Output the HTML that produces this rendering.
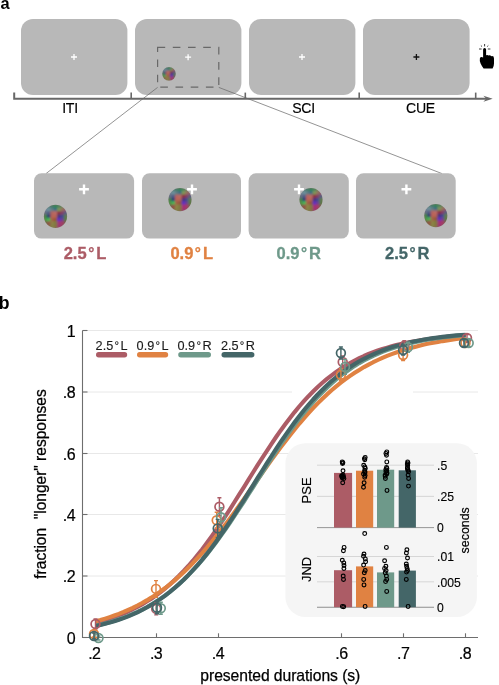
<!DOCTYPE html>
<html><head><meta charset="utf-8"><title>figure</title>
<style>
html,body{margin:0;padding:0;background:#fff;}
body{width:499px;height:685px;overflow:hidden;}
svg{display:block;}
text{font-family:"Liberation Sans",Arial,Helvetica,sans-serif;}
</style></head><body>
<svg width="499" height="685" viewBox="0 0 499 685">
<defs>
<filter id="bl" x="-20%" y="-20%" width="140%" height="140%"><feGaussianBlur stdDeviation="0.85"/></filter>
<filter id="bl2" x="-20%" y="-20%" width="140%" height="140%"><feGaussianBlur stdDeviation="1.5"/></filter>
<clipPath id="cc"><circle cx="0" cy="0" r="11.6"/></clipPath>
<g id="stim">
<g clip-path="url(#cc)">
<g filter="url(#bl)">
<rect x="-14" y="-14" width="28" height="28" fill="#8a7a70"/>
<rect x="-5.01" y="-11.70" width="3.44" height="3.44" fill="#468c6e"/>
<rect x="-1.67" y="-11.70" width="3.44" height="3.44" fill="#28965a"/>
<rect x="1.67" y="-11.70" width="3.44" height="3.44" fill="#509664"/>
<rect x="-8.36" y="-11.70" width="3.44" height="3.44" fill="#5a8c82"/>
<rect x="5.01" y="-11.70" width="3.44" height="3.44" fill="#789664"/>
<rect x="-11.70" y="-8.36" width="3.44" height="3.44" fill="#7896aa"/>
<rect x="-8.36" y="-8.36" width="3.44" height="3.44" fill="#78aab4"/>
<rect x="-5.01" y="-8.36" width="3.44" height="3.44" fill="#648c96"/>
<rect x="-1.67" y="-8.36" width="3.44" height="3.44" fill="#327896"/>
<rect x="1.67" y="-8.36" width="3.44" height="3.44" fill="#8cb45a"/>
<rect x="5.01" y="-8.36" width="3.44" height="3.44" fill="#aa8264"/>
<rect x="8.36" y="-8.36" width="3.44" height="3.44" fill="#aa5a6e"/>
<rect x="-11.70" y="-5.01" width="3.44" height="3.44" fill="#6e7896"/>
<rect x="-8.36" y="-5.01" width="3.44" height="3.44" fill="#506496"/>
<rect x="-5.01" y="-5.01" width="3.44" height="3.44" fill="#d26e64"/>
<rect x="-1.67" y="-5.01" width="3.44" height="3.44" fill="#dc786e"/>
<rect x="1.67" y="-5.01" width="3.44" height="3.44" fill="#a0283c"/>
<rect x="5.01" y="-5.01" width="3.44" height="3.44" fill="#963c6e"/>
<rect x="8.36" y="-5.01" width="3.44" height="3.44" fill="#5a6496"/>
<rect x="-11.70" y="-1.67" width="3.44" height="3.44" fill="#469646"/>
<rect x="-8.36" y="-1.67" width="3.44" height="3.44" fill="#1e3282"/>
<rect x="-5.01" y="-1.67" width="3.44" height="3.44" fill="#d76e5a"/>
<rect x="-1.67" y="-1.67" width="3.44" height="3.44" fill="#d26e5a"/>
<rect x="1.67" y="-1.67" width="3.44" height="3.44" fill="#46328c"/>
<rect x="5.01" y="-1.67" width="3.44" height="3.44" fill="#3c50a0"/>
<rect x="8.36" y="-1.67" width="3.44" height="3.44" fill="#648c50"/>
<rect x="-11.70" y="1.67" width="3.44" height="3.44" fill="#50aa46"/>
<rect x="-8.36" y="1.67" width="3.44" height="3.44" fill="#3cdc5a"/>
<rect x="-5.01" y="1.67" width="3.44" height="3.44" fill="#be6446"/>
<rect x="-1.67" y="1.67" width="3.44" height="3.44" fill="#aa5a32"/>
<rect x="1.67" y="1.67" width="3.44" height="3.44" fill="#6428e6"/>
<rect x="5.01" y="1.67" width="3.44" height="3.44" fill="#783caa"/>
<rect x="8.36" y="1.67" width="3.44" height="3.44" fill="#5a8c3c"/>
<rect x="-11.70" y="5.01" width="3.44" height="3.44" fill="#787846"/>
<rect x="-8.36" y="5.01" width="3.44" height="3.44" fill="#aa5046"/>
<rect x="-5.01" y="5.01" width="3.44" height="3.44" fill="#a09646"/>
<rect x="-1.67" y="5.01" width="3.44" height="3.44" fill="#8c8c3c"/>
<rect x="1.67" y="5.01" width="3.44" height="3.44" fill="#be288c"/>
<rect x="5.01" y="5.01" width="3.44" height="3.44" fill="#be3c6e"/>
<rect x="8.36" y="5.01" width="3.44" height="3.44" fill="#826450"/>
<rect x="-8.36" y="8.36" width="3.44" height="3.44" fill="#966e46"/>
<rect x="-5.01" y="8.36" width="3.44" height="3.44" fill="#969646"/>
<rect x="-1.67" y="8.36" width="3.44" height="3.44" fill="#96823c"/>
<rect x="1.67" y="8.36" width="3.44" height="3.44" fill="#b43278"/>
<rect x="5.01" y="8.36" width="3.44" height="3.44" fill="#aa466e"/>
<rect x="-14" y="-14" width="28" height="28" fill="#3a3040" opacity="0.16"/>
</g></g></g>
<g id="stimS">
<g clip-path="url(#cc)">
<g filter="url(#bl2)">
<rect x="-14" y="-14" width="28" height="28" fill="#8a7a70"/>
<rect x="-5.01" y="-11.70" width="3.44" height="3.44" fill="#468c6e"/>
<rect x="-1.67" y="-11.70" width="3.44" height="3.44" fill="#28965a"/>
<rect x="1.67" y="-11.70" width="3.44" height="3.44" fill="#509664"/>
<rect x="-8.36" y="-11.70" width="3.44" height="3.44" fill="#5a8c82"/>
<rect x="5.01" y="-11.70" width="3.44" height="3.44" fill="#789664"/>
<rect x="-11.70" y="-8.36" width="3.44" height="3.44" fill="#7896aa"/>
<rect x="-8.36" y="-8.36" width="3.44" height="3.44" fill="#78aab4"/>
<rect x="-5.01" y="-8.36" width="3.44" height="3.44" fill="#648c96"/>
<rect x="-1.67" y="-8.36" width="3.44" height="3.44" fill="#327896"/>
<rect x="1.67" y="-8.36" width="3.44" height="3.44" fill="#8cb45a"/>
<rect x="5.01" y="-8.36" width="3.44" height="3.44" fill="#aa8264"/>
<rect x="8.36" y="-8.36" width="3.44" height="3.44" fill="#aa5a6e"/>
<rect x="-11.70" y="-5.01" width="3.44" height="3.44" fill="#6e7896"/>
<rect x="-8.36" y="-5.01" width="3.44" height="3.44" fill="#506496"/>
<rect x="-5.01" y="-5.01" width="3.44" height="3.44" fill="#d26e64"/>
<rect x="-1.67" y="-5.01" width="3.44" height="3.44" fill="#dc786e"/>
<rect x="1.67" y="-5.01" width="3.44" height="3.44" fill="#a0283c"/>
<rect x="5.01" y="-5.01" width="3.44" height="3.44" fill="#963c6e"/>
<rect x="8.36" y="-5.01" width="3.44" height="3.44" fill="#5a6496"/>
<rect x="-11.70" y="-1.67" width="3.44" height="3.44" fill="#469646"/>
<rect x="-8.36" y="-1.67" width="3.44" height="3.44" fill="#1e3282"/>
<rect x="-5.01" y="-1.67" width="3.44" height="3.44" fill="#d76e5a"/>
<rect x="-1.67" y="-1.67" width="3.44" height="3.44" fill="#d26e5a"/>
<rect x="1.67" y="-1.67" width="3.44" height="3.44" fill="#46328c"/>
<rect x="5.01" y="-1.67" width="3.44" height="3.44" fill="#3c50a0"/>
<rect x="8.36" y="-1.67" width="3.44" height="3.44" fill="#648c50"/>
<rect x="-11.70" y="1.67" width="3.44" height="3.44" fill="#50aa46"/>
<rect x="-8.36" y="1.67" width="3.44" height="3.44" fill="#3cdc5a"/>
<rect x="-5.01" y="1.67" width="3.44" height="3.44" fill="#be6446"/>
<rect x="-1.67" y="1.67" width="3.44" height="3.44" fill="#aa5a32"/>
<rect x="1.67" y="1.67" width="3.44" height="3.44" fill="#6428e6"/>
<rect x="5.01" y="1.67" width="3.44" height="3.44" fill="#783caa"/>
<rect x="8.36" y="1.67" width="3.44" height="3.44" fill="#5a8c3c"/>
<rect x="-11.70" y="5.01" width="3.44" height="3.44" fill="#787846"/>
<rect x="-8.36" y="5.01" width="3.44" height="3.44" fill="#aa5046"/>
<rect x="-5.01" y="5.01" width="3.44" height="3.44" fill="#a09646"/>
<rect x="-1.67" y="5.01" width="3.44" height="3.44" fill="#8c8c3c"/>
<rect x="1.67" y="5.01" width="3.44" height="3.44" fill="#be288c"/>
<rect x="5.01" y="5.01" width="3.44" height="3.44" fill="#be3c6e"/>
<rect x="8.36" y="5.01" width="3.44" height="3.44" fill="#826450"/>
<rect x="-8.36" y="8.36" width="3.44" height="3.44" fill="#966e46"/>
<rect x="-5.01" y="8.36" width="3.44" height="3.44" fill="#969646"/>
<rect x="-1.67" y="8.36" width="3.44" height="3.44" fill="#96823c"/>
<rect x="1.67" y="8.36" width="3.44" height="3.44" fill="#b43278"/>
<rect x="5.01" y="8.36" width="3.44" height="3.44" fill="#aa466e"/>
<rect x="-14" y="-14" width="28" height="28" fill="#3a3040" opacity="0.16"/>
</g></g></g>
</defs>
<rect width="499" height="685" fill="#fff"/>

<text x="0.4" y="9.4" font-size="16.4" font-weight="bold" fill="#000">a</text>
<text x="-1.3" y="308.6" font-size="17.6" font-weight="bold" fill="#000">b</text>
<rect x="21" y="19" width="106.4" height="76" rx="12" ry="12" fill="#b8b8b8"/>
<rect x="135" y="19" width="106.4" height="76" rx="12" ry="12" fill="#b8b8b8"/>
<rect x="249" y="19" width="106.4" height="76" rx="12" ry="12" fill="#b8b8b8"/>
<rect x="363" y="19" width="106.6" height="76" rx="12" ry="12" fill="#b8b8b8"/>
<path d="M71.0 57H77.0M74 54.0V60.0" stroke="#fff" stroke-width="1.3" fill="none"/>
<path d="M185.1 57.2H191.1M188.1 54.2V60.2" stroke="#fff" stroke-width="1.3" fill="none"/>
<path d="M299.0 57H305.0M302 54.0V60.0" stroke="#fff" stroke-width="1.3" fill="none"/>
<path d="M413.4 57H419.4M416.4 54.0V60.0" stroke="#111" stroke-width="1.3" fill="none"/>
<rect x="157.6" y="47.3" width="61.2" height="39.9" fill="none" stroke="#686868" stroke-width="1.2" stroke-dasharray="7.6 7.6"/>
<use href="#stimS" transform="translate(169,73.8) scale(0.59)"/>
<path d="M157.6 87.4L46 173.6M218.8 87.4L442 173.6" stroke="#666" stroke-width="0.7" fill="none"/>
<path d="M14.2 92.6V98.75H487" stroke="#686868" stroke-width="2" fill="none" stroke-linejoin="miter"/>
<path d="M131.2 92.6V98.75" stroke="#686868" stroke-width="1.6" fill="none"/>
<path d="M245.3 92.6V98.75" stroke="#686868" stroke-width="1.6" fill="none"/>
<path d="M359.2 92.6V98.75" stroke="#686868" stroke-width="1.6" fill="none"/>
<path d="M475.7 92.6V98.75" stroke="#686868" stroke-width="1.6" fill="none"/>
<path d="M492.7 98.75L483.4 95.8L486.2 98.75L483.4 101.7Z" fill="#686868"/>
<text x="70" y="112.7" font-size="14.1" letter-spacing="-0.3" text-anchor="middle" fill="#000" stroke="#000" stroke-width="0.15">ITI</text>
<text x="303.5" y="112.7" font-size="14.1" letter-spacing="-0.3" text-anchor="middle" fill="#000" stroke="#000" stroke-width="0.15">SCI</text>
<text x="420.5" y="112.7" font-size="14.1" letter-spacing="-0.3" text-anchor="middle" fill="#000" stroke="#000" stroke-width="0.15">CUE</text>
<g fill="#000" stroke="none">
<path d="M483.1 49.4 Q483.1 47.9 484.6 47.9 Q486.1 47.9 486.1 49.4 V55.2 Q487.6 54.4 488.6 55.6 Q490.2 54.8 491.2 56.2 Q494 55.6 494 58.5 V63.5 Q494 66 492.6 68.6 H483.6 Q482 66.5 480.6 63.5 Q479.4 60.5 479.9 58.2 Q480.6 56.4 483.1 57.5 Z"/>
</g>
<g stroke="#333" stroke-width="0.95" fill="none">
<path d="M484.6 44V46.4M479 49H481.6M487.8 49H490.4M480.9 45.5L482 46.6M488.3 45.5L487.2 46.6"/>
</g>
<rect x="34" y="173.3" width="100.1" height="65.3" rx="7.5" ry="7.5" fill="#b8b8b8"/>
<rect x="142" y="173.3" width="99" height="65.3" rx="7.5" ry="7.5" fill="#b8b8b8"/>
<rect x="248.6" y="173.3" width="100.2" height="65.3" rx="7.5" ry="7.5" fill="#b8b8b8"/>
<rect x="356" y="173.3" width="99.7" height="65.3" rx="7.5" ry="7.5" fill="#b8b8b8"/>
<path d="M79.1 189.3H88.9M84 184.4V194.20000000000002" stroke="#fff" stroke-width="2.4" fill="none"/>
<path d="M187.1 189.3H196.9M192 184.4V194.20000000000002" stroke="#fff" stroke-width="2.4" fill="none"/>
<path d="M294.1 189.3H303.9M299 184.4V194.20000000000002" stroke="#fff" stroke-width="2.4" fill="none"/>
<path d="M401.5 189.3H411.29999999999995M406.4 184.4V194.20000000000002" stroke="#fff" stroke-width="2.4" fill="none"/>
<use href="#stim" transform="translate(55.5,216.3)"/>
<use href="#stim" transform="translate(180,199.6)"/>
<use href="#stim" transform="translate(311,199.6)"/>
<use href="#stim" transform="translate(435.8,215.6)"/>
<text x="85" y="258.8" font-size="16.5" font-weight="bold" text-anchor="middle" fill="#ac5c66" stroke="#ac5c66" stroke-width="0.3">2.5<tspan dx="1.5" dy="-1.3" font-size="15.2">°</tspan><tspan dx="2" dy="1.3">L</tspan></text>
<text x="191.7" y="258.8" font-size="16.5" font-weight="bold" text-anchor="middle" fill="#e08242" stroke="#e08242" stroke-width="0.3">0.9<tspan dx="1.5" dy="-1.3" font-size="15.2">°</tspan><tspan dx="2" dy="1.3">L</tspan></text>
<text x="298.8" y="258.8" font-size="16.5" font-weight="bold" text-anchor="middle" fill="#6e998a" stroke="#6e998a" stroke-width="0.3">0.9<tspan dx="1.5" dy="-1.3" font-size="15.2">°</tspan><tspan dx="2" dy="1.3">R</tspan></text>
<text x="407.2" y="258.8" font-size="16.5" font-weight="bold" text-anchor="middle" fill="#446668" stroke="#446668" stroke-width="0.3">2.5<tspan dx="1.5" dy="-1.3" font-size="15.2">°</tspan><tspan dx="2" dy="1.3">R</tspan></text>
<path d="M82.5 576.0H478.0" stroke="#e8e8e8" stroke-width="1"/>
<path d="M82.5 514.5H478.0" stroke="#e8e8e8" stroke-width="1"/>
<path d="M82.5 453.5H478.0" stroke="#e8e8e8" stroke-width="1"/>
<path d="M82.5 330.5H478.0" stroke="#e8e8e8" stroke-width="1"/>
<path d="M82.5 392.0H292M413 392.0H478.0" stroke="#e8e8e8" stroke-width="1"/>
<path d="M82.5 330.4V637.5H478.0" stroke="#6e6e6e" stroke-width="1.1" fill="none"/>
<path d="M82.5 637.5h5" stroke="#6e6e6e" stroke-width="1.1"/>
<path d="M82.5 576.0h5" stroke="#6e6e6e" stroke-width="1.1"/>
<path d="M82.5 514.5h5" stroke="#6e6e6e" stroke-width="1.1"/>
<path d="M82.5 453.5h5" stroke="#6e6e6e" stroke-width="1.1"/>
<path d="M82.5 392.0h5" stroke="#6e6e6e" stroke-width="1.1"/>
<path d="M82.5 330.5h5" stroke="#6e6e6e" stroke-width="1.1"/>
<path d="M94.5 637.5v-4.2" stroke="#6e6e6e" stroke-width="1.1"/>
<path d="M156.5 637.5v-4.2" stroke="#6e6e6e" stroke-width="1.1"/>
<path d="M218.5 637.5v-4.2" stroke="#6e6e6e" stroke-width="1.1"/>
<path d="M341.5 637.5v-4.2" stroke="#6e6e6e" stroke-width="1.1"/>
<path d="M403.5 637.5v-4.2" stroke="#6e6e6e" stroke-width="1.1"/>
<path d="M465.5 637.5v-4.2" stroke="#6e6e6e" stroke-width="1.1"/>
<text x="75.2" y="643.6" font-size="16" letter-spacing="-0.5" text-anchor="end" fill="#000" stroke="#000" stroke-width="0.2">0</text>
<text x="75.2" y="582.1" font-size="16" letter-spacing="-0.5" text-anchor="end" fill="#000" stroke="#000" stroke-width="0.2">.2</text>
<text x="75.2" y="520.6" font-size="16" letter-spacing="-0.5" text-anchor="end" fill="#000" stroke="#000" stroke-width="0.2">.4</text>
<text x="75.2" y="459.6" font-size="16" letter-spacing="-0.5" text-anchor="end" fill="#000" stroke="#000" stroke-width="0.2">.6</text>
<text x="75.2" y="398.1" font-size="16" letter-spacing="-0.5" text-anchor="end" fill="#000" stroke="#000" stroke-width="0.2">.8</text>
<text x="75.2" y="336.6" font-size="16" letter-spacing="-0.5" text-anchor="end" fill="#000" stroke="#000" stroke-width="0.2">1</text>
<text x="94.3" y="658.6" font-size="16" letter-spacing="-0.5" text-anchor="middle" fill="#000" stroke="#000" stroke-width="0.2">.2</text>
<text x="156.1" y="658.6" font-size="16" letter-spacing="-0.5" text-anchor="middle" fill="#000" stroke="#000" stroke-width="0.2">.3</text>
<text x="217.9" y="658.6" font-size="16" letter-spacing="-0.5" text-anchor="middle" fill="#000" stroke="#000" stroke-width="0.2">.4</text>
<text x="341.4" y="658.6" font-size="16" letter-spacing="-0.5" text-anchor="middle" fill="#000" stroke="#000" stroke-width="0.2">.6</text>
<text x="403.2" y="658.6" font-size="16" letter-spacing="-0.5" text-anchor="middle" fill="#000" stroke="#000" stroke-width="0.2">.7</text>
<text x="465.0" y="658.6" font-size="16" letter-spacing="-0.5" text-anchor="middle" fill="#000" stroke="#000" stroke-width="0.2">.8</text>
<text x="280.3" y="681.2" font-size="15.7" letter-spacing="-0.06" text-anchor="middle" fill="#000" stroke="#000" stroke-width="0.25">presented durations (s)</text>
<text transform="translate(46,484) rotate(-90)" font-size="15.6" letter-spacing="-0.04" text-anchor="middle" fill="#000" stroke="#000" stroke-width="0.25" xml:space="preserve">fraction  "longer" responses</text>
<rect x="285.4" y="443.3" width="191.5" height="173.6" rx="20" ry="20" fill="#f5f5f5"/>
<path d="M95.8 622.6 L100.5 621.3 L105.1 620.0 L109.7 618.6 L114.3 617.0 L118.9 615.3 L123.6 613.5 L128.2 611.5 L132.8 609.3 L137.4 606.9 L142.1 604.4 L146.7 601.6 L151.3 598.7 L155.9 595.5 L160.6 592.1 L165.2 588.4 L169.8 584.5 L174.4 580.2 L179.0 575.8 L183.7 571.0 L188.3 566.0 L192.9 560.7 L197.5 555.1 L202.2 549.2 L206.8 543.1 L211.4 536.8 L216.0 530.2 L220.6 523.4 L225.3 516.4 L229.9 509.3 L234.5 502.0 L239.1 494.7 L243.8 487.3 L248.4 479.9 L253.0 472.5 L257.6 465.1 L262.3 457.9 L266.9 450.8 L271.5 443.8 L276.1 437.0 L280.7 430.4 L285.4 424.1 L290.0 418.0 L294.6 412.1 L299.2 406.5 L303.9 401.2 L308.5 396.2 L313.1 391.5 L317.7 387.0 L322.4 382.8 L327.0 378.9 L331.6 375.3 L336.2 371.9 L340.8 368.7 L345.5 365.7 L350.1 363.0 L354.7 360.5 L359.3 358.2 L364.0 356.0 L368.6 354.0 L373.2 352.2 L377.8 350.5 L382.4 349.0 L387.1 347.6 L391.7 346.3 L396.3 345.1 L400.9 344.0 L405.6 343.0 L410.2 342.0 L414.8 341.2 L419.4 340.4 L424.1 339.7 L428.7 339.0 L433.3 338.4 L437.9 337.9 L442.5 337.4 L447.2 336.9 L451.8 336.5 L456.4 336.1 L461.0 335.7 L465.7 335.4" stroke="#ac5c66" stroke-width="4.1" fill="none" stroke-linecap="butt" stroke-linejoin="round"/>
<path d="M95.8 621.3 L100.5 620.0 L105.1 618.6 L109.7 617.1 L114.3 615.5 L118.9 613.8 L123.6 611.9 L128.2 609.9 L132.8 607.8 L137.4 605.5 L142.1 603.0 L146.7 600.4 L151.3 597.6 L155.9 594.6 L160.6 591.4 L165.2 588.0 L169.8 584.4 L174.4 580.6 L179.0 576.5 L183.7 572.3 L188.3 567.8 L192.9 563.1 L197.5 558.2 L202.2 553.1 L206.8 547.8 L211.4 542.2 L216.0 536.5 L220.6 530.6 L225.3 524.6 L229.9 518.4 L234.5 512.1 L239.1 505.7 L243.8 499.2 L248.4 492.6 L253.0 486.0 L257.6 479.5 L262.3 472.9 L266.9 466.4 L271.5 459.9 L276.1 453.6 L280.7 447.3 L285.4 441.2 L290.0 435.2 L294.6 429.4 L299.2 423.8 L303.9 418.4 L308.5 413.2 L313.1 408.2 L317.7 403.4 L322.4 398.8 L327.0 394.4 L331.6 390.3 L336.2 386.4 L340.8 382.7 L345.5 379.2 L350.1 375.9 L354.7 372.8 L359.3 369.9 L364.0 367.1 L368.6 364.6 L373.2 362.2 L377.8 360.0 L382.4 357.9 L387.1 355.9 L391.7 354.1 L396.3 352.5 L400.9 350.9 L405.6 349.5 L410.2 348.1 L414.8 346.9 L419.4 345.7 L424.1 344.6 L428.7 343.6 L433.3 342.7 L437.9 341.9 L442.5 341.1 L447.2 340.4 L451.8 339.7 L456.4 339.0 L461.0 338.5 L465.7 337.9" stroke="#e08242" stroke-width="4.1" fill="none" stroke-linecap="butt" stroke-linejoin="round"/>
<path d="M95.8 625.7 L100.5 624.6 L105.1 623.4 L109.7 622.2 L114.3 620.8 L118.9 619.3 L123.6 617.6 L128.2 615.9 L132.8 613.9 L137.4 611.9 L142.1 609.6 L146.7 607.2 L151.3 604.5 L155.9 601.7 L160.6 598.6 L165.2 595.3 L169.8 591.8 L174.4 588.0 L179.0 584.0 L183.7 579.7 L188.3 575.2 L192.9 570.4 L197.5 565.3 L202.2 560.0 L206.8 554.4 L211.4 548.5 L216.0 542.4 L220.6 536.1 L225.3 529.6 L229.9 522.8 L234.5 515.9 L239.1 508.9 L243.8 501.8 L248.4 494.5 L253.0 487.3 L257.6 480.0 L262.3 472.7 L266.9 465.5 L271.5 458.3 L276.1 451.3 L280.7 444.4 L285.4 437.7 L290.0 431.2 L294.6 424.9 L299.2 418.8 L303.9 413.0 L308.5 407.4 L313.1 402.1 L317.7 397.0 L322.4 392.2 L327.0 387.7 L331.6 383.5 L336.2 379.5 L340.8 375.7 L345.5 372.2 L350.1 369.0 L354.7 365.9 L359.3 363.1 L364.0 360.5 L368.6 358.1 L373.2 355.8 L377.8 353.8 L382.4 351.9 L387.1 350.1 L391.7 348.5 L396.3 347.0 L400.9 345.7 L405.6 344.4 L410.2 343.2 L414.8 342.2 L419.4 341.2 L424.1 340.3 L428.7 339.5 L433.3 338.8 L437.9 338.1 L442.5 337.5 L447.2 336.9 L451.8 336.4 L456.4 335.9 L461.0 335.5 L465.7 335.1" stroke="#6e998a" stroke-width="4.1" fill="none" stroke-linecap="butt" stroke-linejoin="round"/>
<path d="M95.8 626.1 L100.5 625.0 L105.1 623.8 L109.7 622.6 L114.3 621.2 L118.9 619.7 L123.6 618.1 L128.2 616.3 L132.8 614.4 L137.4 612.3 L142.1 610.0 L146.7 607.5 L151.3 604.9 L155.9 602.0 L160.6 598.9 L165.2 595.6 L169.8 592.0 L174.4 588.2 L179.0 584.1 L183.7 579.8 L188.3 575.1 L192.9 570.2 L197.5 565.1 L202.2 559.6 L206.8 553.9 L211.4 547.9 L216.0 541.7 L220.6 535.2 L225.3 528.5 L229.9 521.6 L234.5 514.6 L239.1 507.4 L243.8 500.1 L248.4 492.7 L253.0 485.3 L257.6 477.9 L262.3 470.5 L266.9 463.2 L271.5 456.0 L276.1 448.8 L280.7 441.9 L285.4 435.1 L290.0 428.6 L294.6 422.3 L299.2 416.2 L303.9 410.3 L308.5 404.8 L313.1 399.5 L317.7 394.5 L322.4 389.8 L327.0 385.3 L331.6 381.1 L336.2 377.2 L340.8 373.6 L345.5 370.2 L350.1 367.0 L354.7 364.0 L359.3 361.3 L364.0 358.8 L368.6 356.5 L373.2 354.3 L377.8 352.3 L382.4 350.5 L387.1 348.8 L391.7 347.3 L396.3 345.9 L400.9 344.6 L405.6 343.4 L410.2 342.3 L414.8 341.3 L419.4 340.4 L424.1 339.6 L428.7 338.8 L433.3 338.1 L437.9 337.5 L442.5 336.9 L447.2 336.4 L451.8 335.9 L456.4 335.4 L461.0 335.0 L465.7 334.7" stroke="#446668" stroke-width="4.1" fill="none" stroke-linecap="butt" stroke-linejoin="round"/>
<g stroke="#ac5c66" fill="none"><circle cx="95.5" cy="624" r="4.4" stroke-width="1.7"/><path d="M95.5 619V629M93.5 619h4M93.5 629h4" stroke-width="1.4"/></g>
<g stroke="#e08242" fill="none"><circle cx="94" cy="634" r="4.4" stroke-width="1.7"/><path d="M94 631V637M92 631h4M92 637h4" stroke-width="1.4"/></g>
<g stroke="#6e998a" fill="none"><circle cx="98.5" cy="638" r="4.4" stroke-width="1.7"/><path d="M98.5 636V640M96.5 636h4M96.5 640h4" stroke-width="1.4"/></g>
<g stroke="#446668" fill="none"><circle cx="94" cy="636" r="4.4" stroke-width="1.7"/><path d="M94 633V639M92 633h4M92 639h4" stroke-width="1.4"/></g>
<g stroke="#ac5c66" fill="none"><circle cx="156.2" cy="608.9" r="4.4" stroke-width="1.7"/><path d="M156.2 602.9V614.9M154.2 602.9h4M154.2 614.9h4" stroke-width="1.4"/></g>
<g stroke="#e08242" fill="none"><circle cx="156" cy="588.9" r="4.4" stroke-width="1.7"/><path d="M156 580.6V597.1999999999999M154 580.6h4M154 597.1999999999999h4" stroke-width="1.4"/></g>
<g stroke="#6e998a" fill="none"><circle cx="160.8" cy="608.2" r="4.4" stroke-width="1.7"/><path d="M160.8 602.2V614.2M158.8 602.2h4M158.8 614.2h4" stroke-width="1.4"/></g>
<g stroke="#446668" fill="none"><circle cx="157" cy="607.8" r="4.4" stroke-width="1.7"/><path d="M157 601.8V613.8M155 601.8h4M155 613.8h4" stroke-width="1.4"/></g>
<g stroke="#ac5c66" fill="none"><circle cx="219.4" cy="506.7" r="4.4" stroke-width="1.7"/><path d="M219.4 497.7V515.7M217.4 497.7h4M217.4 515.7h4" stroke-width="1.4"/></g>
<g stroke="#e08242" fill="none"><circle cx="216.7" cy="520.3" r="4.4" stroke-width="1.7"/><path d="M216.7 512.3V528.3M214.7 512.3h4M214.7 528.3h4" stroke-width="1.4"/></g>
<g stroke="#6e998a" fill="none"><circle cx="221" cy="517.3" r="4.4" stroke-width="1.7"/><path d="M221 507.79999999999995V526.8M219 507.79999999999995h4M219 526.8h4" stroke-width="1.4"/></g>
<g stroke="#446668" fill="none"><circle cx="217.7" cy="528.4" r="4.4" stroke-width="1.7"/><path d="M217.7 519.4V537.4M215.7 519.4h4M215.7 537.4h4" stroke-width="1.4"/></g>
<g stroke="#ac5c66" fill="none"><circle cx="342.7" cy="362" r="4.4" stroke-width="1.7"/><path d="M342.7 356V368M340.7 356h4M340.7 368h4" stroke-width="1.4"/></g>
<g stroke="#e08242" fill="none"><circle cx="340.9" cy="374.7" r="4.4" stroke-width="1.7"/><path d="M340.9 368.7V380.7M338.9 368.7h4M338.9 380.7h4" stroke-width="1.4"/></g>
<g stroke="#6e998a" fill="none"><circle cx="345" cy="366.9" r="4.4" stroke-width="1.7"/><path d="M345 359.4V374.4M343 359.4h4M343 374.4h4" stroke-width="1.4"/></g>
<g stroke="#446668" fill="none"><circle cx="340.9" cy="353" r="4.4" stroke-width="1.7"/><path d="M340.9 347V359M338.9 347h4M338.9 359h4" stroke-width="1.4"/></g>
<g stroke="#ac5c66" fill="none"><circle cx="404.3" cy="345.8" r="4.4" stroke-width="1.7"/><path d="M404.3 340.8V350.8M402.3 340.8h4M402.3 350.8h4" stroke-width="1.4"/></g>
<g stroke="#e08242" fill="none"><circle cx="403.1" cy="355" r="4.4" stroke-width="1.7"/><path d="M403.1 349.5V360.5M401.1 349.5h4M401.1 360.5h4" stroke-width="1.4"/></g>
<g stroke="#6e998a" fill="none"><circle cx="408" cy="347.3" r="4.4" stroke-width="1.7"/><path d="M408 342.3V352.3M406 342.3h4M406 352.3h4" stroke-width="1.4"/></g>
<g stroke="#446668" fill="none"><circle cx="403.1" cy="350" r="4.4" stroke-width="1.7"/><path d="M403.1 345V355M401.1 345h4M401.1 355h4" stroke-width="1.4"/></g>
<g stroke="#ac5c66" fill="none"><circle cx="467" cy="338" r="4.4" stroke-width="1.7"/><path d="M467 334.5V341.5M465 334.5h4M465 341.5h4" stroke-width="1.4"/></g>
<g stroke="#e08242" fill="none"><circle cx="465.5" cy="343" r="4.4" stroke-width="1.7"/><path d="M465.5 339.5V346.5M463.5 339.5h4M463.5 346.5h4" stroke-width="1.4"/></g>
<g stroke="#6e998a" fill="none"><circle cx="468.7" cy="343" r="4.4" stroke-width="1.7"/><path d="M468.7 339.5V346.5M466.7 339.5h4M466.7 346.5h4" stroke-width="1.4"/></g>
<g stroke="#446668" fill="none"><circle cx="464" cy="343" r="4.4" stroke-width="1.7"/><path d="M464 339.5V346.5M462 339.5h4M462 346.5h4" stroke-width="1.4"/></g>
<text x="111.6" y="349.6" font-size="12.7" text-anchor="middle" fill="#1a1a1a" stroke="#1a1a1a" stroke-width="0.12">2.5<tspan dx="1.3" dy="-0.8" font-size="11.3">°</tspan><tspan dx="1.5" dy="0.8">L</tspan></text>
<path d="M98.7 354.8H124.5" stroke="#ac5c66" stroke-width="5.4" stroke-linecap="round"/>
<text x="152.6" y="349.6" font-size="12.7" text-anchor="middle" fill="#1a1a1a" stroke="#1a1a1a" stroke-width="0.12">0.9<tspan dx="1.3" dy="-0.8" font-size="11.3">°</tspan><tspan dx="1.5" dy="0.8">L</tspan></text>
<path d="M139.7 354.8H165.5" stroke="#e08242" stroke-width="5.4" stroke-linecap="round"/>
<text x="194.6" y="349.6" font-size="12.7" text-anchor="middle" fill="#1a1a1a" stroke="#1a1a1a" stroke-width="0.12">0.9<tspan dx="1.3" dy="-0.8" font-size="11.3">°</tspan><tspan dx="1.5" dy="0.8">R</tspan></text>
<path d="M180.89999999999998 354.8H208.3" stroke="#6e998a" stroke-width="5.4" stroke-linecap="round"/>
<text x="237.95" y="349.6" font-size="12.7" text-anchor="middle" fill="#1a1a1a" stroke="#1a1a1a" stroke-width="0.12">2.5<tspan dx="1.3" dy="-0.8" font-size="11.3">°</tspan><tspan dx="1.5" dy="0.8">R</tspan></text>
<path d="M224.2 354.8H251.70000000000002" stroke="#446668" stroke-width="5.4" stroke-linecap="round"/>
<path d="M317 465.2H434" stroke="#cecece" stroke-width="0.8"/>
<path d="M317 496.4H434" stroke="#cecece" stroke-width="0.8"/>
<path d="M317 527.6H434" stroke="#cecece" stroke-width="0.8"/>
<path d="M317 556.5H434" stroke="#cecece" stroke-width="0.8"/>
<path d="M317 581.8H434" stroke="#cecece" stroke-width="0.8"/>
<path d="M317 607.2H434" stroke="#cecece" stroke-width="0.8"/>
<path d="M317 527.6H434M317 607.3H434" stroke="#9a9a9a" stroke-width="1"/>
<rect x="334" y="472.9" width="18.1" height="54.7" fill="#ac5c66"/>
<rect x="356" y="470.7" width="17.2" height="56.9" fill="#e08242"/>
<rect x="377" y="469.7" width="17.2" height="57.9" fill="#6e998a"/>
<rect x="398.7" y="470.3" width="17.2" height="57.3" fill="#446668"/>
<rect x="334" y="570.2" width="18.1" height="37.0" fill="#ac5c66"/>
<rect x="356" y="566.4" width="17.2" height="40.8" fill="#e08242"/>
<rect x="377" y="572.4" width="17.2" height="34.8" fill="#6e998a"/>
<rect x="398.7" y="570.6" width="17.2" height="36.6" fill="#446668"/>
<circle cx="342.2" cy="461.9" r="1.9" fill="none" stroke="#000" stroke-width="1.15"/>
<circle cx="342.9" cy="462.8" r="1.9" fill="none" stroke="#000" stroke-width="1.15"/>
<circle cx="342.5" cy="463.6" r="1.9" fill="none" stroke="#000" stroke-width="1.15"/>
<circle cx="343.0" cy="470.7" r="1.9" fill="none" stroke="#000" stroke-width="1.15"/>
<circle cx="343.1" cy="475.1" r="1.9" fill="none" stroke="#000" stroke-width="1.15"/>
<circle cx="341.8" cy="475.6" r="1.9" fill="none" stroke="#000" stroke-width="1.15"/>
<circle cx="341.7" cy="476.2" r="1.9" fill="none" stroke="#000" stroke-width="1.15"/>
<circle cx="343.5" cy="476.7" r="1.9" fill="none" stroke="#000" stroke-width="1.15"/>
<circle cx="342.3" cy="477.3" r="1.9" fill="none" stroke="#000" stroke-width="1.15"/>
<circle cx="342.2" cy="477.8" r="1.9" fill="none" stroke="#000" stroke-width="1.15"/>
<circle cx="343.9" cy="478.4" r="1.9" fill="none" stroke="#000" stroke-width="1.15"/>
<circle cx="342.7" cy="482.8" r="1.9" fill="none" stroke="#000" stroke-width="1.15"/>
<circle cx="365.2" cy="457.4" r="1.9" fill="none" stroke="#000" stroke-width="1.15"/>
<circle cx="364.4" cy="458.6" r="1.9" fill="none" stroke="#000" stroke-width="1.15"/>
<circle cx="364.8" cy="459.7" r="1.9" fill="none" stroke="#000" stroke-width="1.15"/>
<circle cx="363.7" cy="465.2" r="1.9" fill="none" stroke="#000" stroke-width="1.15"/>
<circle cx="364.8" cy="466.9" r="1.9" fill="none" stroke="#000" stroke-width="1.15"/>
<circle cx="365.3" cy="468.4" r="1.9" fill="none" stroke="#000" stroke-width="1.15"/>
<circle cx="364.6" cy="470.4" r="1.9" fill="none" stroke="#000" stroke-width="1.15"/>
<circle cx="365.0" cy="471.8" r="1.9" fill="none" stroke="#000" stroke-width="1.15"/>
<circle cx="364.9" cy="472.9" r="1.9" fill="none" stroke="#000" stroke-width="1.15"/>
<circle cx="363.5" cy="474.0" r="1.9" fill="none" stroke="#000" stroke-width="1.15"/>
<circle cx="365.1" cy="475.4" r="1.9" fill="none" stroke="#000" stroke-width="1.15"/>
<circle cx="364.7" cy="477.3" r="1.9" fill="none" stroke="#000" stroke-width="1.15"/>
<circle cx="364.1" cy="482.8" r="1.9" fill="none" stroke="#000" stroke-width="1.15"/>
<circle cx="363.5" cy="487.2" r="1.9" fill="none" stroke="#000" stroke-width="1.15"/>
<circle cx="386.8" cy="451.9" r="1.9" fill="none" stroke="#000" stroke-width="1.15"/>
<circle cx="385.9" cy="453.4" r="1.9" fill="none" stroke="#000" stroke-width="1.15"/>
<circle cx="386.5" cy="455.2" r="1.9" fill="none" stroke="#000" stroke-width="1.15"/>
<circle cx="386.8" cy="461.9" r="1.9" fill="none" stroke="#000" stroke-width="1.15"/>
<circle cx="386.5" cy="467.4" r="1.9" fill="none" stroke="#000" stroke-width="1.15"/>
<circle cx="386.9" cy="468.4" r="1.9" fill="none" stroke="#000" stroke-width="1.15"/>
<circle cx="385.8" cy="469.6" r="1.9" fill="none" stroke="#000" stroke-width="1.15"/>
<circle cx="386.7" cy="470.7" r="1.9" fill="none" stroke="#000" stroke-width="1.15"/>
<circle cx="385.9" cy="471.8" r="1.9" fill="none" stroke="#000" stroke-width="1.15"/>
<circle cx="387.0" cy="472.9" r="1.9" fill="none" stroke="#000" stroke-width="1.15"/>
<circle cx="386.8" cy="474.0" r="1.9" fill="none" stroke="#000" stroke-width="1.15"/>
<circle cx="385.1" cy="475.1" r="1.9" fill="none" stroke="#000" stroke-width="1.15"/>
<circle cx="385.2" cy="476.2" r="1.9" fill="none" stroke="#000" stroke-width="1.15"/>
<circle cx="385.4" cy="478.4" r="1.9" fill="none" stroke="#000" stroke-width="1.15"/>
<circle cx="387.0" cy="490.4" r="1.9" fill="none" stroke="#000" stroke-width="1.15"/>
<circle cx="407.6" cy="461.9" r="1.9" fill="none" stroke="#000" stroke-width="1.15"/>
<circle cx="408.0" cy="462.9" r="1.9" fill="none" stroke="#000" stroke-width="1.15"/>
<circle cx="407.3" cy="464.1" r="1.9" fill="none" stroke="#000" stroke-width="1.15"/>
<circle cx="407.7" cy="465.4" r="1.9" fill="none" stroke="#000" stroke-width="1.15"/>
<circle cx="407.4" cy="467.4" r="1.9" fill="none" stroke="#000" stroke-width="1.15"/>
<circle cx="407.4" cy="468.4" r="1.9" fill="none" stroke="#000" stroke-width="1.15"/>
<circle cx="407.9" cy="469.6" r="1.9" fill="none" stroke="#000" stroke-width="1.15"/>
<circle cx="407.9" cy="470.6" r="1.9" fill="none" stroke="#000" stroke-width="1.15"/>
<circle cx="408.6" cy="471.8" r="1.9" fill="none" stroke="#000" stroke-width="1.15"/>
<circle cx="408.1" cy="475.1" r="1.9" fill="none" stroke="#000" stroke-width="1.15"/>
<circle cx="408.6" cy="478.4" r="1.9" fill="none" stroke="#000" stroke-width="1.15"/>
<circle cx="408.5" cy="486.1" r="1.9" fill="none" stroke="#000" stroke-width="1.15"/>
<circle cx="344.1" cy="547.4" r="1.9" fill="none" stroke="#000" stroke-width="1.15"/>
<circle cx="343.4" cy="550.8" r="1.9" fill="none" stroke="#000" stroke-width="1.15"/>
<circle cx="342.3" cy="560.2" r="1.9" fill="none" stroke="#000" stroke-width="1.15"/>
<circle cx="343.8" cy="562.9" r="1.9" fill="none" stroke="#000" stroke-width="1.15"/>
<circle cx="344.0" cy="565.4" r="1.9" fill="none" stroke="#000" stroke-width="1.15"/>
<circle cx="343.9" cy="568.4" r="1.9" fill="none" stroke="#000" stroke-width="1.15"/>
<circle cx="343.2" cy="576.1" r="1.9" fill="none" stroke="#000" stroke-width="1.15"/>
<circle cx="343.5" cy="579.4" r="1.9" fill="none" stroke="#000" stroke-width="1.15"/>
<circle cx="342.4" cy="606.4" r="1.9" fill="none" stroke="#000" stroke-width="1.15"/>
<circle cx="343.7" cy="606.7" r="1.9" fill="none" stroke="#000" stroke-width="1.15"/>
<circle cx="364.7" cy="533.6" r="1.9" fill="none" stroke="#000" stroke-width="1.15"/>
<circle cx="364.0" cy="554.1" r="1.9" fill="none" stroke="#000" stroke-width="1.15"/>
<circle cx="363.5" cy="556.3" r="1.9" fill="none" stroke="#000" stroke-width="1.15"/>
<circle cx="365.3" cy="558.9" r="1.9" fill="none" stroke="#000" stroke-width="1.15"/>
<circle cx="365.6" cy="561.8" r="1.9" fill="none" stroke="#000" stroke-width="1.15"/>
<circle cx="363.6" cy="565.1" r="1.9" fill="none" stroke="#000" stroke-width="1.15"/>
<circle cx="365.2" cy="570.6" r="1.9" fill="none" stroke="#000" stroke-width="1.15"/>
<circle cx="364.3" cy="572.8" r="1.9" fill="none" stroke="#000" stroke-width="1.15"/>
<circle cx="363.7" cy="579.4" r="1.9" fill="none" stroke="#000" stroke-width="1.15"/>
<circle cx="364.0" cy="584.9" r="1.9" fill="none" stroke="#000" stroke-width="1.15"/>
<circle cx="365.1" cy="606.4" r="1.9" fill="none" stroke="#000" stroke-width="1.15"/>
<circle cx="386.4" cy="547.4" r="1.9" fill="none" stroke="#000" stroke-width="1.15"/>
<circle cx="384.6" cy="560.7" r="1.9" fill="none" stroke="#000" stroke-width="1.15"/>
<circle cx="385.9" cy="566.2" r="1.9" fill="none" stroke="#000" stroke-width="1.15"/>
<circle cx="384.6" cy="568.4" r="1.9" fill="none" stroke="#000" stroke-width="1.15"/>
<circle cx="386.1" cy="570.6" r="1.9" fill="none" stroke="#000" stroke-width="1.15"/>
<circle cx="385.2" cy="572.8" r="1.9" fill="none" stroke="#000" stroke-width="1.15"/>
<circle cx="386.4" cy="576.1" r="1.9" fill="none" stroke="#000" stroke-width="1.15"/>
<circle cx="386.7" cy="579.4" r="1.9" fill="none" stroke="#000" stroke-width="1.15"/>
<circle cx="385.6" cy="581.6" r="1.9" fill="none" stroke="#000" stroke-width="1.15"/>
<circle cx="386.7" cy="591.4" r="1.9" fill="none" stroke="#000" stroke-width="1.15"/>
<circle cx="406.9" cy="549.7" r="1.9" fill="none" stroke="#000" stroke-width="1.15"/>
<circle cx="406.4" cy="553.0" r="1.9" fill="none" stroke="#000" stroke-width="1.15"/>
<circle cx="407.5" cy="558.0" r="1.9" fill="none" stroke="#000" stroke-width="1.15"/>
<circle cx="406.3" cy="564.0" r="1.9" fill="none" stroke="#000" stroke-width="1.15"/>
<circle cx="406.6" cy="566.2" r="1.9" fill="none" stroke="#000" stroke-width="1.15"/>
<circle cx="407.1" cy="568.4" r="1.9" fill="none" stroke="#000" stroke-width="1.15"/>
<circle cx="407.5" cy="570.6" r="1.9" fill="none" stroke="#000" stroke-width="1.15"/>
<circle cx="406.5" cy="572.1" r="1.9" fill="none" stroke="#000" stroke-width="1.15"/>
<circle cx="406.3" cy="579.4" r="1.9" fill="none" stroke="#000" stroke-width="1.15"/>
<circle cx="408.1" cy="606.4" r="1.9" fill="none" stroke="#000" stroke-width="1.15"/>
<text x="437" y="469.7" font-size="12.2" fill="#000" stroke="#000" stroke-width="0.12">.5</text>
<text x="437" y="500.9" font-size="12.2" fill="#000" stroke="#000" stroke-width="0.12">.25</text>
<text x="437" y="532.1" font-size="12.2" fill="#000" stroke="#000" stroke-width="0.12">0</text>
<text x="437" y="561.3" font-size="12.2" fill="#000" stroke="#000" stroke-width="0.12">.01</text>
<text x="437" y="586.5" font-size="12.2" fill="#000" stroke="#000" stroke-width="0.12">.005</text>
<text x="437" y="611.9" font-size="12.2" fill="#000" stroke="#000" stroke-width="0.12">0</text>
<text transform="translate(311.3,490.4) rotate(-90)" font-size="13" text-anchor="middle" fill="#000" stroke="#000" stroke-width="0.15">PSE</text>
<text transform="translate(311.3,569.4) rotate(-90)" font-size="13" text-anchor="middle" fill="#000" stroke="#000" stroke-width="0.15">JND</text>
<text transform="translate(469,530.3) rotate(-90)" font-size="12.4" text-anchor="middle" fill="#000" stroke="#000" stroke-width="0.2">seconds</text>
</svg></body></html>
